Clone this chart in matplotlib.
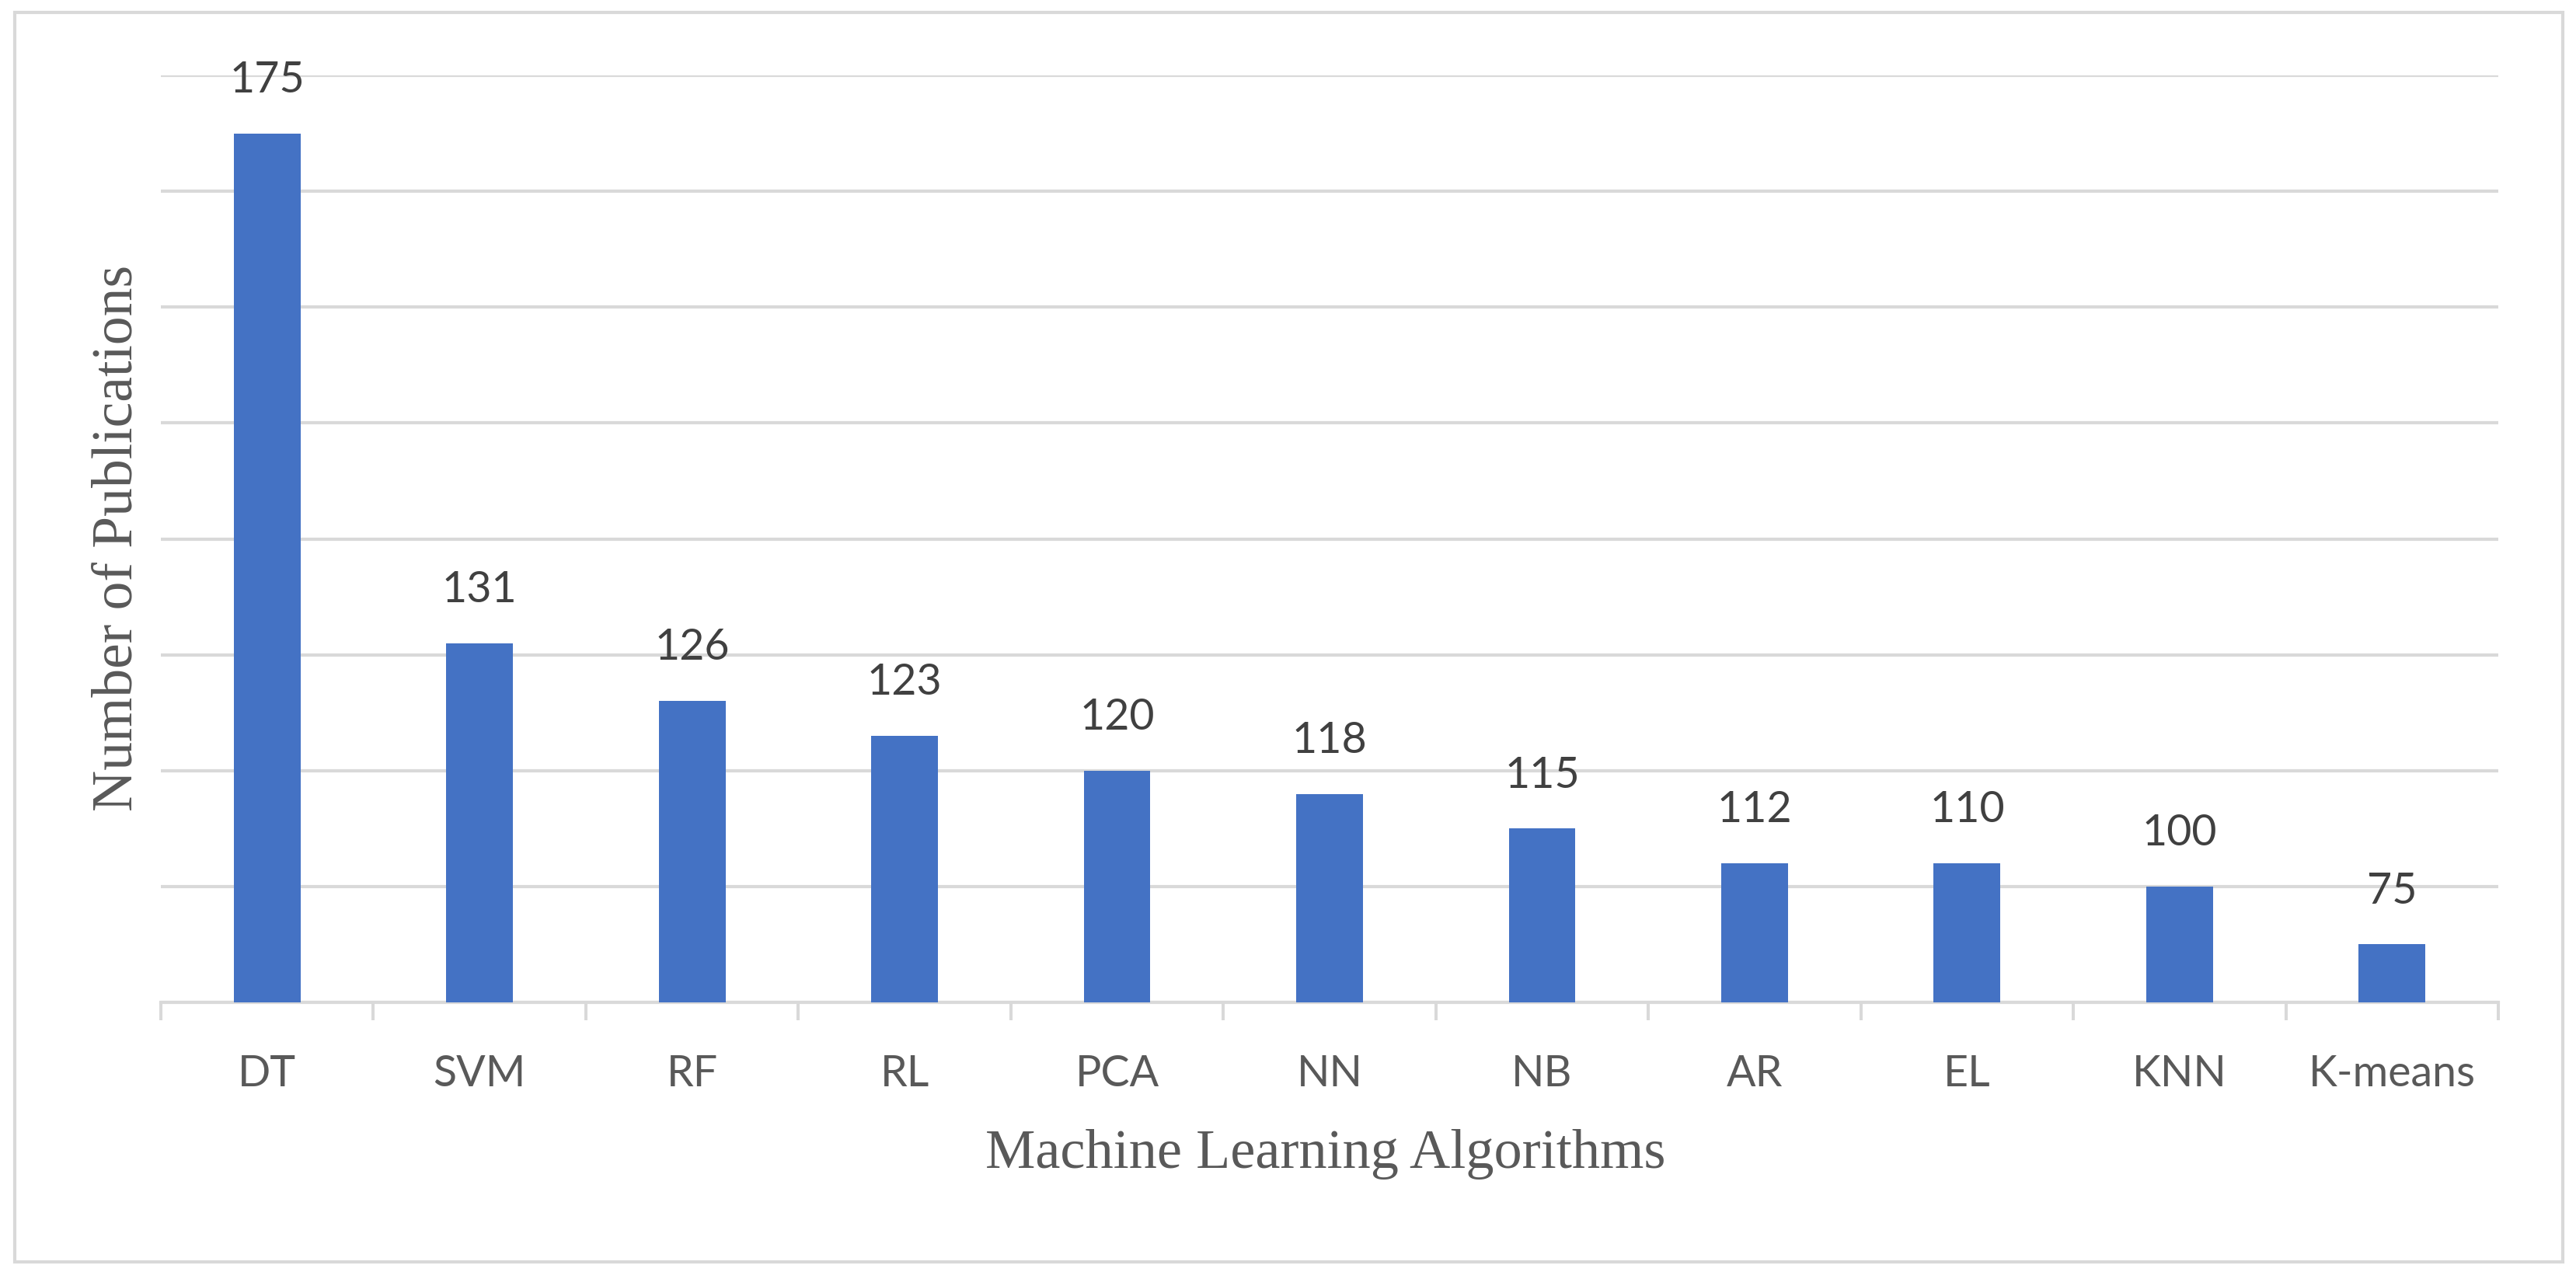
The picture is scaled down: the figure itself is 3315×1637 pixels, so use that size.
import matplotlib
matplotlib.use("Agg")
import matplotlib.pyplot as plt
from matplotlib.patches import Rectangle

# categories and values
algorithms = ['DT', 'SVM', 'RF', 'RL', 'PCA', 'NN', 'NB', 'AR', 'EL', 'KNN', 'K-means']
bar_heights = [175, 131, 126, 123, 120, 118, 115, 112, 112, 110, 105]   # height of each drawn bar
bar_labels = ['175', '131', '126', '123', '120', '118', '115', '112', '110', '100', '75']  # printed labels
y_ticks = [100, 110, 120, 130, 140, 150, 160, 170, 180]

bar_color = '#4472C4'
grid_color = '#D9D9D9'
text_color = '#595959'

W, H = 3315, 1637
fig = plt.figure(figsize=(W / 100, H / 100), dpi=100)
ax = fig.add_axes([207 / W, 1 - 1290 / H, (3215 - 207) / W, (1290 - 97) / H])

x = list(range(len(algorithms)))
ax.bar(x, bar_heights, width=0.314, color=bar_color, zorder=3)

# data labels above the bars
for xi, h, lab in zip(x, bar_heights, bar_labels):
    ax.annotate(lab, (xi, h), xytext=(0, 38), textcoords='offset points',
                ha='center', va='baseline', fontsize=40, family='Lato', color='#404040')

ax.set_xlim(-0.5, len(algorithms) - 0.5)
ax.set_ylim(y_ticks[0], y_ticks[-1])
ax.set_yticks(y_ticks)
ax.yaxis.grid(True, color=grid_color, linewidth=3)
ax.set_axisbelow(True)
ax.tick_params(axis='y', left=False, labelleft=False)

ax.set_xticks(x)
ax.set_xticklabels(algorithms, fontsize=40, family='Lato', color=text_color)
ax.set_xticks([i - 0.5 for i in range(len(algorithms) + 1)], minor=True)
ax.tick_params(axis='x', which='major', length=0, pad=48)
ax.tick_params(axis='x', which='minor', length=16.5, width=2.9, color=grid_color)

for side in ['left', 'right', 'top']:
    ax.spines[side].set_visible(False)
ax.spines['bottom'].set_color(grid_color)
ax.spines['bottom'].set_linewidth(3)

fig.text(1706 / W, 1 - 1503 / H, 'Machine Learning Algorithms', ha='center', va='baseline',
         fontsize=52, family='Liberation Serif', color=text_color)
fig.text(152 / W, 1 - 692 / H, 'Number of Publications', ha='center', va='center',
         rotation=90, fontsize=53, family='Liberation Serif', color=text_color)

# light frame round the whole chart
fig.patches.append(Rectangle((19 / W, 1 - 1624 / H), (3298 - 19) / W, (1624 - 16) / H,
                             transform=fig.transFigure, fill=False,
                             edgecolor=grid_color, linewidth=3))

fig.savefig('out.png', dpi=100, facecolor='white')
